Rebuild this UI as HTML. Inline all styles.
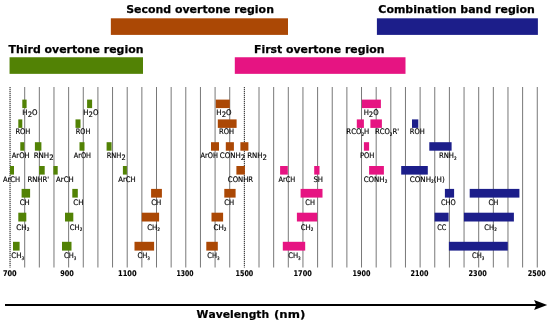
<!DOCTYPE html>
<html><head><meta charset="utf-8"><title>NIR overtone regions</title>
<style>
html,body{margin:0;padding:0;background:#fff}
svg{display:block}
.h{font-family:"DejaVu Sans","Liberation Sans",sans-serif;font-weight:bold;font-size:11.3px;fill:#000;stroke:#000;stroke-width:0.25px}
.a{font-family:"DejaVu Sans","Liberation Sans",sans-serif;font-weight:bold;font-size:7.9px;fill:#000;stroke:#000;stroke-width:0.12px}
.w{font-family:"DejaVu Sans","Liberation Sans",sans-serif;font-weight:bold;font-size:10px;fill:#000;stroke:#000;stroke-width:0.2px}
.l{font-family:"DejaVu Sans","Liberation Sans",sans-serif;font-size:7.6px;fill:#000;stroke:#000;stroke-width:0.17px}
.s{font-size:7.5px}
.t{font-size:4.6px}
text{font-kerning:none}
</style></head><body>
<svg width="550" height="323" viewBox="0 0 550 323">
<rect width="550" height="323" fill="#fff"/>

<g stroke="#787878" stroke-width="1" fill="none">
<line x1="10.05" y1="87" x2="10.05" y2="267.5" stroke="#c4c4c4" stroke-width="1"/>
<line x1="10.05" y1="87" x2="10.05" y2="267.5" stroke="#303030" stroke-width="1" stroke-dasharray="1 1"/>
<line x1="24.70" y1="87" x2="24.70" y2="267.5"/>
<line x1="39.34" y1="87" x2="39.34" y2="267.5"/>
<line x1="53.98" y1="87" x2="53.98" y2="267.5"/>
<line x1="68.63" y1="87" x2="68.63" y2="267.5"/>
<line x1="83.27" y1="87" x2="83.27" y2="267.5"/>
<line x1="97.92" y1="87" x2="97.92" y2="267.5"/>
<line x1="112.56" y1="87" x2="112.56" y2="267.5"/>
<line x1="127.21" y1="87" x2="127.21" y2="267.5"/>
<line x1="141.86" y1="87" x2="141.86" y2="267.5"/>
<line x1="156.50" y1="87" x2="156.50" y2="267.5"/>
<line x1="171.15" y1="87" x2="171.15" y2="267.5"/>
<line x1="185.79" y1="87" x2="185.79" y2="267.5"/>
<line x1="200.44" y1="87" x2="200.44" y2="267.5"/>
<line x1="215.08" y1="87" x2="215.08" y2="267.5"/>
<line x1="229.72" y1="87" x2="229.72" y2="267.5"/>
<line x1="244.37" y1="87" x2="244.37" y2="267.5" stroke="#c4c4c4" stroke-width="1"/>
<line x1="244.37" y1="87" x2="244.37" y2="267.5" stroke="#303030" stroke-width="1" stroke-dasharray="1 1"/>
<line x1="259.01" y1="87" x2="259.01" y2="267.5"/>
<line x1="273.66" y1="87" x2="273.66" y2="267.5"/>
<line x1="288.31" y1="87" x2="288.31" y2="267.5"/>
<line x1="302.95" y1="87" x2="302.95" y2="267.5"/>
<line x1="317.60" y1="87" x2="317.60" y2="267.5"/>
<line x1="332.24" y1="87" x2="332.24" y2="267.5"/>
<line x1="346.88" y1="87" x2="346.88" y2="267.5"/>
<line x1="361.53" y1="87" x2="361.53" y2="267.5"/>
<line x1="376.18" y1="87" x2="376.18" y2="267.5"/>
<line x1="390.82" y1="87" x2="390.82" y2="267.5"/>
<line x1="405.46" y1="87" x2="405.46" y2="267.5"/>
<line x1="420.11" y1="87" x2="420.11" y2="267.5"/>
<line x1="434.75" y1="87" x2="434.75" y2="267.5"/>
<line x1="449.40" y1="87" x2="449.40" y2="267.5"/>
<line x1="464.05" y1="87" x2="464.05" y2="267.5"/>
<line x1="478.69" y1="87" x2="478.69" y2="267.5"/>
<line x1="493.33" y1="87" x2="493.33" y2="267.5"/>
<line x1="507.98" y1="87" x2="507.98" y2="267.5"/>
<line x1="522.62" y1="87" x2="522.62" y2="267.5"/>
<line x1="537.27" y1="87" x2="537.27" y2="267.5"/>
</g>
<rect x="110.85" y="18.3" width="177.15" height="16.6" fill="#AB4805"/>
<rect x="376.9" y="18.3" width="161.0" height="16.6" fill="#1C1E8A"/>
<rect x="9.55" y="57.25" width="133.45" height="16.6" fill="#528205"/>
<rect x="234.8" y="57.25" width="170.7" height="16.6" fill="#E61482"/>
<text class="h" x="126.21" y="13.3" textLength="147.74" lengthAdjust="spacingAndGlyphs">Second overtone region</text>
<text class="h" x="378.35" y="13.3" textLength="156.50" lengthAdjust="spacingAndGlyphs">Combination band region</text>
<text class="h" x="8.50" y="52.8" textLength="135.01" lengthAdjust="spacingAndGlyphs">Third overtone region</text>
<text class="h" x="254.00" y="52.8" textLength="130.45" lengthAdjust="spacingAndGlyphs">First overtone region</text>
<rect x="22.3" y="99.6" width="4.3" height="8.5" fill="#528205"/>
<rect x="87.1" y="99.6" width="5.0" height="8.5" fill="#528205"/>
<rect x="215.8" y="99.6" width="14.0" height="8.5" fill="#AB4805"/>
<rect x="361.9" y="99.6" width="19.0" height="8.5" fill="#E61482"/>
<rect x="18.3" y="119.4" width="4.0" height="8.5" fill="#528205"/>
<rect x="75.5" y="119.4" width="5.0" height="8.5" fill="#528205"/>
<rect x="217.8" y="119.4" width="18.8" height="8.5" fill="#AB4805"/>
<rect x="356.8" y="119.4" width="7.1" height="8.5" fill="#E61482"/>
<rect x="370.4" y="119.4" width="11.5" height="8.5" fill="#E61482"/>
<rect x="412.0" y="119.4" width="6.3" height="8.5" fill="#1C1E8A"/>
<rect x="20.3" y="142.2" width="4.0" height="8.5" fill="#528205"/>
<rect x="34.9" y="142.2" width="6.5" height="8.5" fill="#528205"/>
<rect x="79.5" y="142.2" width="5.0" height="8.5" fill="#528205"/>
<rect x="106.6" y="142.2" width="5.0" height="8.5" fill="#528205"/>
<rect x="211.0" y="142.2" width="8.0" height="8.5" fill="#AB4805"/>
<rect x="225.8" y="142.2" width="8.1" height="8.5" fill="#AB4805"/>
<rect x="240.4" y="142.2" width="8.0" height="8.5" fill="#AB4805"/>
<rect x="363.9" y="142.2" width="5.2" height="8.5" fill="#E61482"/>
<rect x="429.3" y="142.2" width="22.3" height="8.5" fill="#1C1E8A"/>
<rect x="10.0" y="166.0" width="4.0" height="8.6" fill="#528205"/>
<rect x="39.1" y="166.0" width="5.6" height="8.6" fill="#528205"/>
<rect x="53.4" y="166.0" width="4.3" height="8.6" fill="#528205"/>
<rect x="122.9" y="166.0" width="4.0" height="8.6" fill="#528205"/>
<rect x="236.4" y="166.0" width="8.5" height="8.6" fill="#AB4805"/>
<rect x="280.1" y="166.0" width="7.7" height="8.6" fill="#E61482"/>
<rect x="314.2" y="166.0" width="5.3" height="8.6" fill="#E61482"/>
<rect x="369.1" y="166.0" width="14.8" height="8.6" fill="#E61482"/>
<rect x="401.2" y="166.0" width="26.6" height="8.6" fill="#1C1E8A"/>
<rect x="21.6" y="188.9" width="8.5" height="8.7" fill="#528205"/>
<rect x="72.3" y="188.9" width="5.5" height="8.7" fill="#528205"/>
<rect x="151.1" y="188.9" width="10.8" height="8.7" fill="#AB4805"/>
<rect x="224.3" y="188.9" width="11.3" height="8.7" fill="#AB4805"/>
<rect x="300.6" y="188.9" width="21.9" height="8.7" fill="#E61482"/>
<rect x="444.9" y="188.9" width="9.2" height="8.7" fill="#1C1E8A"/>
<rect x="469.7" y="188.9" width="49.7" height="8.7" fill="#1C1E8A"/>
<rect x="18.3" y="212.7" width="8.0" height="8.8" fill="#528205"/>
<rect x="65.0" y="212.7" width="8.3" height="8.8" fill="#528205"/>
<rect x="141.8" y="212.7" width="17.3" height="8.8" fill="#AB4805"/>
<rect x="211.5" y="212.7" width="11.6" height="8.8" fill="#AB4805"/>
<rect x="296.9" y="212.7" width="20.3" height="8.8" fill="#E61482"/>
<rect x="434.6" y="212.7" width="14.0" height="8.8" fill="#1C1E8A"/>
<rect x="463.9" y="212.7" width="50.0" height="8.8" fill="#1C1E8A"/>
<rect x="13.0" y="241.8" width="6.6" height="8.8" fill="#528205"/>
<rect x="62.0" y="241.8" width="9.5" height="8.8" fill="#528205"/>
<rect x="134.5" y="241.8" width="19.6" height="8.8" fill="#AB4805"/>
<rect x="206.3" y="241.8" width="11.5" height="8.8" fill="#AB4805"/>
<rect x="282.8" y="241.8" width="22.4" height="8.8" fill="#E61482"/>
<rect x="448.9" y="241.8" width="58.9" height="8.8" fill="#1C1E8A"/>
<text class="l" x="22.36" y="115.3" textLength="15.18" lengthAdjust="spacingAndGlyphs">H<tspan class="s" dy="1.5">2</tspan><tspan dy="-1.5">O</tspan></text>
<text class="l" x="83.26" y="115.3" textLength="15.18" lengthAdjust="spacingAndGlyphs">H<tspan class="s" dy="1.5">2</tspan><tspan dy="-1.5">O</tspan></text>
<text class="l" x="216.36" y="115.3" textLength="15.18" lengthAdjust="spacingAndGlyphs">H<tspan class="s" dy="1.5">2</tspan><tspan dy="-1.5">O</tspan></text>
<text class="l" x="363.67" y="115.3" textLength="14.97" lengthAdjust="spacingAndGlyphs">H<tspan class="s" dy="1.5">2</tspan><tspan dy="-1.5">O</tspan></text>
<text class="l" x="15.39" y="134.4" textLength="14.91" lengthAdjust="spacingAndGlyphs">ROH</text>
<text class="l" x="75.80" y="134.4" textLength="14.69" lengthAdjust="spacingAndGlyphs">ROH</text>
<text class="l" x="219.09" y="134.4" textLength="15.02" lengthAdjust="spacingAndGlyphs">ROH</text>
<text class="l" x="346.37" y="134.4" textLength="22.96" lengthAdjust="spacingAndGlyphs">RCO<tspan class="t" dy="1.5">2</tspan><tspan dy="-1.5">H</tspan></text>
<text class="l" x="374.88" y="134.4" textLength="24.23" lengthAdjust="spacingAndGlyphs">RCO<tspan class="t" dy="1.5">2</tspan><tspan dy="-1.5">R'</tspan></text>
<text class="l" x="409.79" y="134.4" textLength="14.91" lengthAdjust="spacingAndGlyphs">ROH</text>
<text class="l" x="11.70" y="158.2" textLength="17.92" lengthAdjust="spacingAndGlyphs">ArOH</text>
<text class="l" x="33.65" y="158.2" textLength="19.99" lengthAdjust="spacingAndGlyphs">RNH<tspan class="s" dy="1.5">2</tspan></text>
<text class="l" x="73.70" y="158.2" textLength="17.30" lengthAdjust="spacingAndGlyphs">ArOH</text>
<text class="l" x="106.69" y="158.2" textLength="18.92" lengthAdjust="spacingAndGlyphs">RNH<tspan class="s" dy="1.5">2</tspan></text>
<text class="l" x="200.60" y="158.2" textLength="17.40" lengthAdjust="spacingAndGlyphs">ArOH</text>
<text class="l" x="219.86" y="158.2" textLength="25.28" lengthAdjust="spacingAndGlyphs">CONH<tspan class="s" dy="1.5">2</tspan></text>
<text class="l" x="247.16" y="158.2" textLength="19.78" lengthAdjust="spacingAndGlyphs">RNH<tspan class="s" dy="1.5">2</tspan></text>
<text class="l" x="359.89" y="158.2" textLength="14.42" lengthAdjust="spacingAndGlyphs">POH</text>
<text class="l" x="438.88" y="158.2" textLength="17.69" lengthAdjust="spacingAndGlyphs">RNH<tspan class="t" dy="1.5">2</tspan></text>
<text class="l" x="2.90" y="181.9" textLength="17.32" lengthAdjust="spacingAndGlyphs">ArCH</text>
<text class="l" x="27.38" y="181.9" textLength="21.73" lengthAdjust="spacingAndGlyphs">RNHR'</text>
<text class="l" x="56.10" y="181.9" textLength="17.63" lengthAdjust="spacingAndGlyphs">ArCH</text>
<text class="l" x="118.30" y="181.9" textLength="17.43" lengthAdjust="spacingAndGlyphs">ArCH</text>
<text class="l" x="227.86" y="181.9" textLength="25.28" lengthAdjust="spacingAndGlyphs">CONHR</text>
<text class="l" x="278.50" y="181.9" textLength="16.80" lengthAdjust="spacingAndGlyphs">ArCH</text>
<text class="l" x="313.40" y="181.9" textLength="9.53" lengthAdjust="spacingAndGlyphs">SH</text>
<text class="l" x="363.65" y="181.9" textLength="23.72" lengthAdjust="spacingAndGlyphs">CONH<tspan class="t" dy="1.5">2</tspan></text>
<text class="l" x="409.75" y="181.9" textLength="35.01" lengthAdjust="spacingAndGlyphs">CONH<tspan class="t" dy="1.5">2</tspan><tspan dy="-1.5">(H)</tspan></text>
<text class="l" x="19.66" y="204.7" textLength="9.96" lengthAdjust="spacingAndGlyphs">CH</text>
<text class="l" x="73.36" y="204.7" textLength="10.18" lengthAdjust="spacingAndGlyphs">CH</text>
<text class="l" x="151.16" y="204.7" textLength="10.18" lengthAdjust="spacingAndGlyphs">CH</text>
<text class="l" x="224.16" y="204.7" textLength="9.96" lengthAdjust="spacingAndGlyphs">CH</text>
<text class="l" x="305.28" y="204.7" textLength="9.62" lengthAdjust="spacingAndGlyphs">CH</text>
<text class="l" x="440.98" y="204.7" textLength="14.85" lengthAdjust="spacingAndGlyphs">CHO</text>
<text class="l" x="488.57" y="204.7" textLength="9.74" lengthAdjust="spacingAndGlyphs">CH</text>
<text class="l" x="16.34" y="229.5" textLength="13.24" lengthAdjust="spacingAndGlyphs">CH<tspan class="t" dy="1.5">2</tspan></text>
<text class="l" x="69.77" y="229.5" textLength="12.49" lengthAdjust="spacingAndGlyphs">CH<tspan class="t" dy="1.5">2</tspan></text>
<text class="l" x="147.15" y="229.5" textLength="12.92" lengthAdjust="spacingAndGlyphs">CH<tspan class="t" dy="1.5">2</tspan></text>
<text class="l" x="213.55" y="229.5" textLength="13.03" lengthAdjust="spacingAndGlyphs">CH<tspan class="t" dy="1.5">2</tspan></text>
<text class="l" x="300.66" y="229.5" textLength="12.71" lengthAdjust="spacingAndGlyphs">CH<tspan class="t" dy="1.5">2</tspan></text>
<text class="l" x="437.18" y="229.5" textLength="9.12" lengthAdjust="spacingAndGlyphs">CC</text>
<text class="l" x="484.37" y="229.5" textLength="12.39" lengthAdjust="spacingAndGlyphs">CH<tspan class="t" dy="1.5">2</tspan></text>
<text class="l" x="11.36" y="258.0" textLength="12.83" lengthAdjust="spacingAndGlyphs">CH<tspan class="t" dy="1.5">3</tspan></text>
<text class="l" x="64.07" y="258.0" textLength="12.30" lengthAdjust="spacingAndGlyphs">CH<tspan class="t" dy="1.5">3</tspan></text>
<text class="l" x="137.57" y="258.0" textLength="12.41" lengthAdjust="spacingAndGlyphs">CH<tspan class="t" dy="1.5">3</tspan></text>
<text class="l" x="207.37" y="258.0" textLength="12.30" lengthAdjust="spacingAndGlyphs">CH<tspan class="t" dy="1.5">3</tspan></text>
<text class="l" x="288.16" y="258.0" textLength="12.62" lengthAdjust="spacingAndGlyphs">CH<tspan class="t" dy="1.5">3</tspan></text>
<text class="l" x="472.07" y="258.0" textLength="12.30" lengthAdjust="spacingAndGlyphs">CH<tspan class="t" dy="1.5">3</tspan></text>
<text class="a" x="2.96" y="275.6" textLength="13.76" lengthAdjust="spacingAndGlyphs">700</text>
<text class="a" x="60.26" y="275.6" textLength="13.65" lengthAdjust="spacingAndGlyphs">900</text>
<text class="a" x="118.05" y="275.6" textLength="18.57" lengthAdjust="spacingAndGlyphs">1100</text>
<text class="a" x="176.61" y="275.6" textLength="16.98" lengthAdjust="spacingAndGlyphs">1300</text>
<text class="a" x="235.58" y="275.6" textLength="17.72" lengthAdjust="spacingAndGlyphs">1500</text>
<text class="a" x="293.56" y="275.6" textLength="18.25" lengthAdjust="spacingAndGlyphs">1700</text>
<text class="a" x="352.58" y="275.6" textLength="17.83" lengthAdjust="spacingAndGlyphs">1900</text>
<text class="a" x="410.59" y="275.6" textLength="17.81" lengthAdjust="spacingAndGlyphs">2100</text>
<text class="a" x="468.58" y="275.6" textLength="18.13" lengthAdjust="spacingAndGlyphs">2300</text>
<text class="a" x="527.79" y="275.6" textLength="17.81" lengthAdjust="spacingAndGlyphs">2500</text>
<line x1="5.0" y1="305.0" x2="537" y2="305.05" stroke="#000" stroke-width="2"/>
<polygon points="534.1,300 547.2,305.05 534.1,310.1 536.3,305.05" fill="#000"/>
<text class="w" x="196.58" y="318.4" textLength="72.56" lengthAdjust="spacingAndGlyphs">Wavelength</text>
<text class="w" x="273.99" y="318.4" textLength="31.32" lengthAdjust="spacingAndGlyphs">(nm)</text>
</svg></body></html>
